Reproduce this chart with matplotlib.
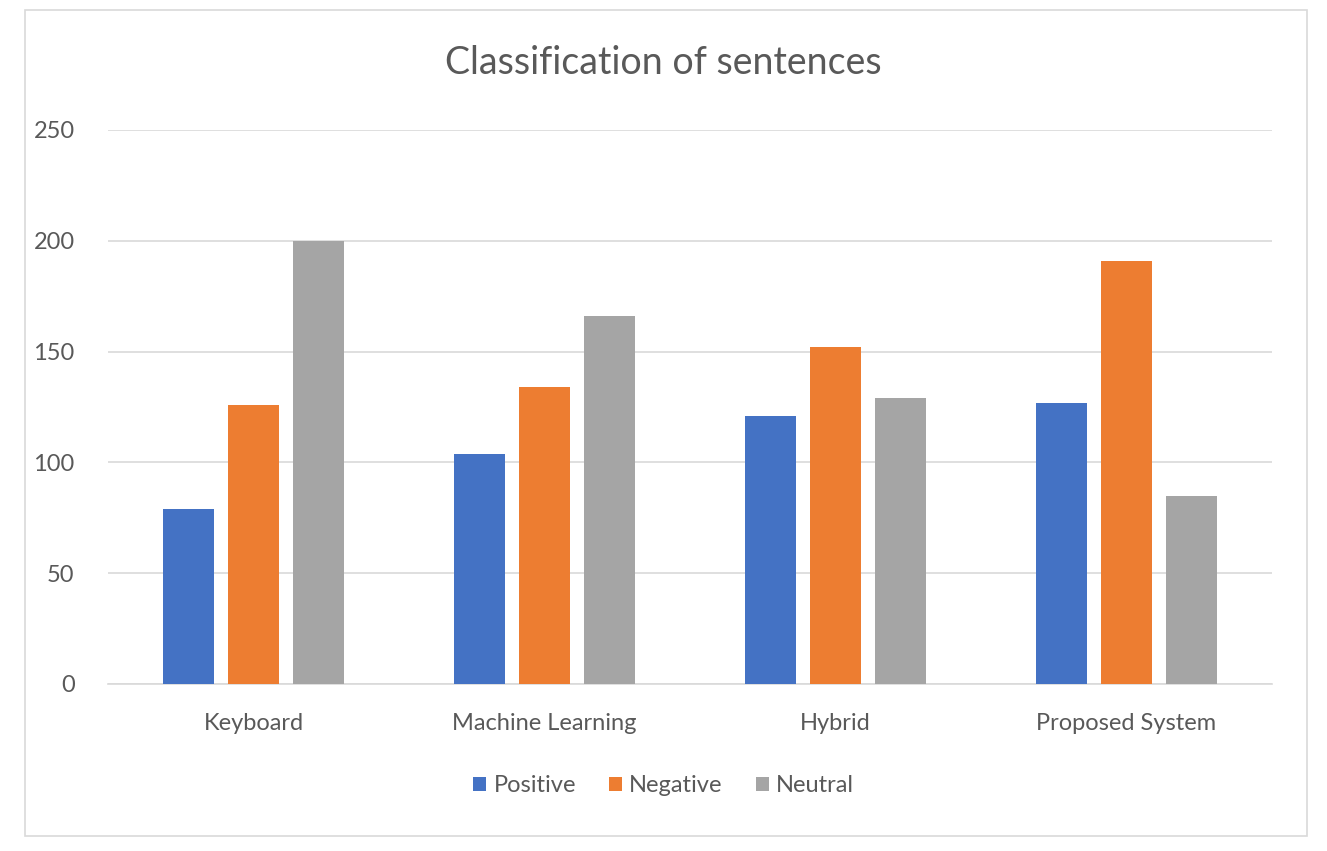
import matplotlib
matplotlib.use("Agg")
import matplotlib.pyplot as plt
import numpy as np
from matplotlib.patches import Rectangle

categories = ["Keyboard", "Machine Learning", "Hybrid", "Proposed System"]
positive = [79, 104, 121, 127]
negative = [126, 134, 152, 191]
neutral = [200, 166, 129, 85]
series_names = ["Positive", "Negative", "Neutral"]
colors = ["#4472C4", "#ED7D31", "#A5A5A5"]
yticks = [0, 50, 100, 150, 200, 250]

plt.rcParams['font.family'] = ['Lato', 'DejaVu Sans']

fig = plt.figure(figsize=(13.27, 8.51), dpi=100)
fig.patch.set_facecolor("white")
# outer chart frame
fig.patches.append(Rectangle((25/1327, 1-836/851), (1307-25)/1327, (836-10)/851,
                             transform=fig.transFigure, fill=False,
                             edgecolor="#D9D9D9", linewidth=1.2))

ax = fig.add_axes([108/1327, 1-684/851, (1272-108)/1327, (684-130)/851])
x = np.arange(len(categories))
w = 0.175
off = 0.223
for i, (vals, name, c) in enumerate(zip([positive, negative, neutral], series_names, colors)):
    ax.bar(x + (i-1)*off, vals, width=w, color=c, label=name, zorder=3)

ax.set_xlim(-0.5, len(categories)-0.5)
ax.set_ylim(0, 250)
ax.set_yticks(yticks)
ax.set_yticklabels([str(v) for v in yticks])
ax.set_xticks(x)
ax.set_xticklabels(categories)
ax.yaxis.grid(True, color="#D9D9D9", linewidth=1.2, zorder=0)
ax.set_axisbelow(True)
for s in ["top", "right", "left"]:
    ax.spines[s].set_visible(False)
ax.spines["bottom"].set_color("#D9D9D9")
ax.spines["bottom"].set_linewidth(1.2)
ax.tick_params(axis="both", length=0, colors="#595959", labelsize=17)
ax.tick_params(axis="y", pad=24)
ax.tick_params(axis="x", pad=21)

fig.text(0.5, 1-63/851, "Classification of sentences", ha="center", va="center",
         fontsize=27, color="#595959")

fig.legend(loc="center", bbox_to_anchor=(0.5, 1-786/851), ncol=3, frameon=False,
           fontsize=17, labelcolor="#595959", handlelength=0.55, handleheight=0.55,
           handletextpad=0.3, columnspacing=1.4)

fig.savefig("out.png", dpi=100, facecolor="white")
